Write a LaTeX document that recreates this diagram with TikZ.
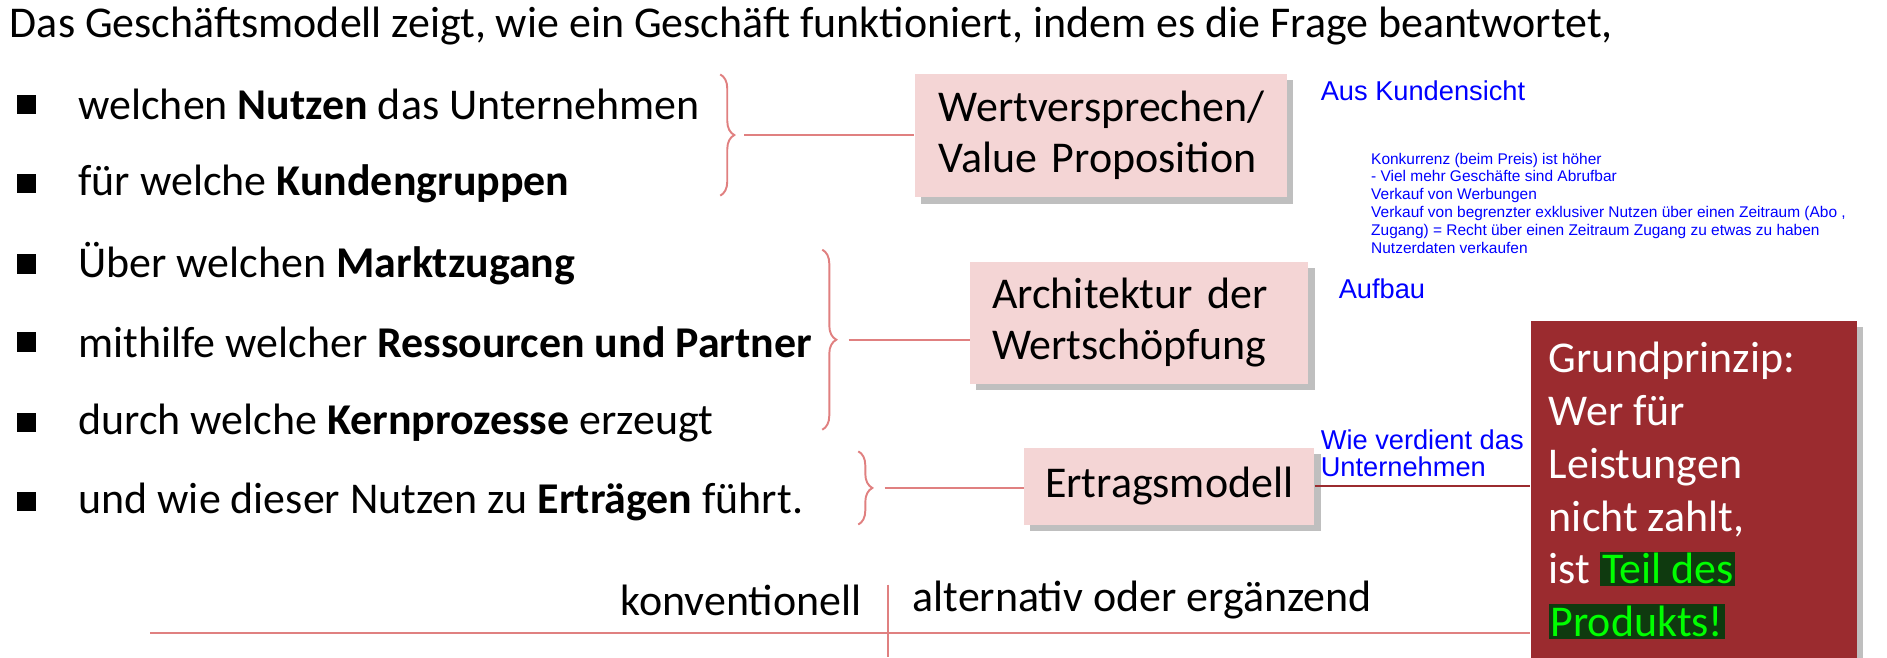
\documentclass[tikz,border=0pt]{standalone}
\usepackage{fontspec}
\setmainfont{Carlito}
\newfontfamily\arialf{Liberation Sans}
\usetikzlibrary{shadows,decorations.pathreplacing}
\definecolor{boxpink}{HTML}{F4D5D5}
\definecolor{linered}{HTML}{E08080}
\definecolor{darkred}{HTML}{9B2B2F}
\definecolor{hlgreen}{HTML}{0F3A0F}
\setlength{\fboxsep}{1pt}
\begin{document}
\begin{tikzpicture}[x=0.024cm,y=-0.024cm,
  main/.style={font=\fontsize{25}{30}\selectfont,anchor=west,inner sep=0},
  bul/.style={fill=black,minimum size=11pt,inner sep=0},
  shad/.style={general shadow={fill=black,opacity=0.25,shadow xshift=3.5pt,shadow yshift=-3.5pt}},
  pbox/.style={fill=boxpink,font=\fontsize{25}{29}\selectfont,align=left,inner sep=0,shad},
  brc/.style={draw=linered,line width=1.1pt,decorate,decoration={brace,amplitude=8pt}},
  conn/.style={draw=linered,line width=1.1pt},
  blue/.style={text=blue,font=\arialf\fontsize{15.5}{15}\selectfont,anchor=north west,inner sep=0,align=left},
  tiny/.style={text=blue,font=\arialf\fontsize{8.8}{10.2}\selectfont,anchor=north west,inner sep=0,align=left}]
\useasboundingbox (0,0) rectangle (1572,548);
\node[main] (title) at (8,22) {Das Geschäftsmodell zeigt, wie ein Geschäft funktioniert, indem es die Frage beantwortet,};
\foreach \y/\t [count=\i] in {87/{welchen \textbf{Nutzen} das Unternehmen},153/{für welche \textbf{Kundengruppen}},220/{Über welchen \textbf{Marktzugang}},285/{mithilfe welcher \textbf{Ressourcen und Partner}},352/{durch welche \textbf{Kernprozesse} erzeugt},418/{und wie dieser Nutzen zu \textbf{Erträgen} führt.}}{
  \node[bul] (b\i) at (22,\y) {};
  \node[main] (t\i) at (65,\y) {\t};
}
% boxes
\node[pbox,minimum width=310*0.024cm,minimum height=103*0.024cm,text width=270*0.024cm] (vp) at (917,113) {Wertversprechen/\\Value Proposition};
\node[pbox,minimum width=282*0.024cm,minimum height=102*0.024cm,text width=245*0.024cm] (aw) at (949,269) {Architektur der\\Wertschöpfung};
\node[pbox,minimum width=242*0.024cm,minimum height=64*0.024cm] (em) at (974,405) {Ertragsmodell};
% braces
\coordinate (v1) at (600,62); \coordinate (v2) at (600,163);
\draw[brc] (v1) -- (v2) coordinate[midway] (vm);
\draw[conn] ([xshift=20*0.024cm]vm) -- (vm -| vp.west);
\coordinate (a1) at (685,208); \coordinate (a2) at (685,358);
\draw[brc] (a1) -- (a2) coordinate[midway] (am);
\draw[conn] ([xshift=22*0.024cm]am) -- (am -| aw.west);
\coordinate (e1) at (715,376); \coordinate (e2) at (715,437);
\draw[brc] (e1) -- (e2) coordinate[midway] (emid);
\draw[conn] ([xshift=22*0.024cm]emid) -- (emid -| em.west);
% red box
\node[fill=darkred,minimum width=272*0.024cm,minimum height=281*0.024cm,inner sep=0,shad] (gp) at (1411,408) {};
\node[anchor=north west,inner sep=0,text=white,font=\fontsize{25}{30}\selectfont,align=left] (gpt) at (1290,285) {Grundprinzip:\\Wer für\\Leistungen\\nicht zahlt,\\ist \colorbox{hlgreen}{\textcolor{green}{Teil des}}\\\colorbox{hlgreen}{\textcolor{green}{Produkts!}}};
\draw[draw=darkred,line width=1.1pt] (em.east) -- (gp.west |- em.east);
% blue notes
\node[blue] (ak) at (1100,67) {Aus Kundensicht};
\node[tiny] (kn) at (1142,127) {Konkurrenz (beim Preis) ist höher\\- Viel mehr Geschäfte sind Abrufbar\\Verkauf von Werbungen\\Verkauf von begrenzter exklusiver Nutzen über einen Zeitraum (Abo ,\\Zugang) = Recht über einen Zeitraum Zugang zu etwas zu haben\\Nutzerdaten verkaufen};
\node[blue] (au) at (1115,232) {Aufbau};
\node[blue,fill=white] (wv) at (1100,358) {Wie verdient das\\Unternehmen};
% bottom
\node[main,anchor=east] (kv) at (718,500) {konventionell};
\node[main] (al) at (760,500) {alternativ oder ergänzend};
\coordinate (h1) at (125,527); \coordinate (vt) at (740,487); \coordinate (vb) at (740,547);
\draw[conn] (h1) -- (gp.west |- h1);
\draw[conn] (vt) -- (vb);
\end{tikzpicture}
\end{document}
